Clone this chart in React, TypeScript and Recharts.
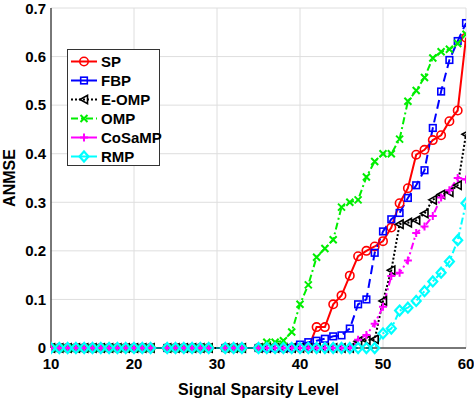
import React from "react";
import {
  LineChart,
  Line,
  CartesianGrid,
  XAxis,
  YAxis,
} from "recharts";

const sparsity = [
  10, 11, 12, 13, 14, 15, 16, 17, 18, 19, 20, 21, 22, 24, 25, 26, 27, 28, 29,
  31, 32, 33, 35, 36, 37, 38, 39, 40, 41, 42, 43, 44, 45, 46, 47, 48, 49, 50,
  51, 52, 53, 54, 55, 56, 57, 58, 59, 60,
];

// 22 points from 10 to 33 are all zero for every method
const zeros = [0, 0, 0, 0, 0, 0, 0, 0, 0, 0, 0, 0, 0, 0, 0, 0, 0, 0, 0, 0, 0, 0];

const sp = [
  ...zeros, 0, 0, 0, 0, 0, 0, 0, 0.043, 0.043, 0.09, 0.108, 0.149, 0.189, 0.2,
  0.209, 0.22, 0.248, 0.298, 0.329, 0.398, 0.408, 0.428, 0.438, 0.467, 0.489,
  0.639,
];
const fbp = [
  ...zeros, 0, 0, 0, 0, 0, 0.007, 0.012, 0.015, 0.019, 0.024, 0.026, 0.04,
  0.09, 0.1, 0.196, 0.24, 0.265, 0.278, 0.309, 0.335, 0.366, 0.453, 0.528,
  0.593, 0.632, 0.669,
];
const eomp = [
  ...zeros, 0, 0, 0, 0, 0, 0, 0, 0, 0, 0, 0, 0, 0.014, 0.016, 0.018, 0.097,
  0.16, 0.255, 0.258, 0.263, 0.277, 0.305, 0.316, 0.321, 0.335, 0.44,
];
const omp = [
  ...zeros, 0, 0.012, 0.012, 0.015, 0.033, 0.09, 0.13, 0.187, 0.205, 0.223,
  0.29, 0.3, 0.305, 0.352, 0.384, 0.4, 0.4, 0.43, 0.508, 0.53, 0.557, 0.597,
  0.61, 0.615, 0.627, 0.646,
];
const cosamp = [
  ...zeros, 0, 0, 0, 0, 0, 0, 0, 0, 0, 0, 0, 0, 0.017, 0.027, 0.05, 0.085,
  0.148, 0.155, 0.18, 0.237, 0.25, 0.272, 0.31, 0.325, 0.35, 0.347,
];
const rmp = [
  ...zeros, 0, 0, 0, 0, 0, 0, 0, 0, 0, 0, 0, 0, 0, 0, 0, 0.03, 0.04, 0.077,
  0.083, 0.097, 0.117, 0.137, 0.155, 0.178, 0.222, 0.298,
];

const xTicks = [10, 20, 30, 40, 50, 60];
const yTicks = [0, 0.1, 0.2, 0.3, 0.4, 0.5, 0.6, 0.7];

type Shape = "circle" | "square" | "triangle" | "x" | "plus" | "diamond";

const series: {
  key: string;
  name: string;
  color: string;
  dash?: string;
  legendDash?: string;
  shape: Shape;
  values: number[];
}[] = [
  { key: "sp", name: "SP", color: "#ff0000", shape: "circle", values: sp },
  { key: "fbp", name: "FBP", color: "#0000ff", dash: "9 5", shape: "square", values: fbp },
  { key: "eomp", name: "E-OMP", color: "#000000", dash: "2 2", legendDash: "2 2", shape: "triangle", values: eomp },
  { key: "omp", name: "OMP", color: "#00ee00", dash: "7 3 2 3", legendDash: "7 3 2 3", shape: "x", values: omp },
  { key: "cosamp", name: "CoSaMP", color: "#ff00ff", dash: "7 3 2 3", shape: "plus", values: cosamp },
  { key: "rmp", name: "RMP", color: "#00ffff", dash: "7 3 2 3", shape: "diamond", values: rmp },
];

const data = sparsity.map((x, i) => {
  const row: Record<string, number> = { x };
  series.forEach((s) => {
    row[s.key] = s.values[i];
  });
  return row;
});

const FONT = "'Liberation Sans', Arial, sans-serif";

const Marker = ({ shape, cx, cy, color }: { shape: Shape; cx: number; cy: number; color: string }) => {
  const sw = 1.6;
  switch (shape) {
    case "circle":
      return <circle cx={cx} cy={cy} r={4.2} fill="none" stroke={color} strokeWidth={sw} />;
    case "square":
      return <rect x={cx - 3.3} y={cy - 3.3} width={6.6} height={6.6} fill="none" stroke={color} strokeWidth={sw} />;
    case "triangle":
      return (
        <polygon
          points={`${cx - 4},${cy} ${cx + 3.5},${cy - 4.2} ${cx + 3.5},${cy + 4.2}`}
          fill="none"
          stroke={color}
          strokeWidth={sw}
        />
      );
    case "x":
      return (
        <path
          d={`M${cx - 3.5},${cy - 3.5}L${cx + 3.5},${cy + 3.5}M${cx - 3.5},${cy + 3.5}L${cx + 3.5},${cy - 3.5}`}
          stroke={color}
          strokeWidth={sw + 0.4}
        />
      );
    case "plus":
      return (
        <path
          d={`M${cx - 4},${cy}L${cx + 4},${cy}M${cx},${cy - 4}L${cx},${cy + 4}`}
          stroke={color}
          strokeWidth={sw + 0.4}
        />
      );
    case "diamond":
      return (
        <polygon
          points={`${cx},${cy - 5} ${cx + 4.5},${cy} ${cx},${cy + 5} ${cx - 4.5},${cy}`}
          fill="none"
          stroke={color}
          strokeWidth={sw + 0.6}
        />
      );
  }
  return null;
};

const makeDot = (shape: Shape, color: string) => (props: any) => {
  const { cx, cy, index } = props;
  if (cx == null || cy == null) return <g key={`d-${index}`} />;
  return (
    <g key={`d-${index}`}>
      <Marker shape={shape} cx={cx} cy={cy} color={color} />
    </g>
  );
};

const LegendBox = () => (
  <div
    style={{
      position: "absolute",
      left: 67,
      top: 49,
      width: 93,
      height: 117,
      border: "1px solid #333",
      background: "#fff",
      fontFamily: FONT,
      fontWeight: "bold",
      fontSize: 15,
      boxSizing: "border-box",
    }}
  >
    {series.map((s, i) => (
      <div
        key={s.key}
        style={{
          position: "absolute",
          left: 2,
          top: 2 + i * 19,
          height: 19,
          display: "flex",
          alignItems: "center",
          whiteSpace: "nowrap",
        }}
      >
        <svg width={28} height={19} style={{ display: "block" }}>
          <line
            x1={1}
            x2={27}
            y1={9.5}
            y2={9.5}
            stroke={s.color}
            strokeWidth={2}
            strokeDasharray={s.legendDash}
          />
          <Marker shape={s.shape} cx={14} cy={9.5} color={s.color} />
        </svg>
        <span style={{ marginLeft: 3, color: "#000" }}>{s.name}</span>
      </div>
    ))}
  </div>
);

export default function App() {
  return (
    <div
      style={{
        position: "fixed",
        left: 0,
        top: 0,
        width: 474,
        height: 399,
        background: "#fff",
      }}
    >
      <LineChart
        width={474}
        height={399}
        data={data}
        margin={{ top: 8, right: 8, bottom: 21, left: 11 }}
        style={{ fontFamily: FONT }}
      >
        <CartesianGrid stroke="#dedede" strokeDasharray="" />
        <XAxis
          dataKey="x"
          type="number"
          domain={[10, 60]}
          ticks={xTicks}
          allowDataOverflow
          height={30}
          tickSize={0}
          tickMargin={10}
          tickLine={false}
          axisLine={{ stroke: "#000" }}
          tick={{ fill: "#000", fontSize: 15, fontWeight: "bold", fontFamily: FONT }}
          label={{
            value: "Signal Sparsity Level",
            position: "bottom",
            offset: 6,
            style: { fill: "#000", fontSize: 16, fontWeight: "bold", fontFamily: FONT },
          }}
        />
        <XAxis
          xAxisId="top"
          orientation="top"
          type="number"
          domain={[10, 60]}
          height={0}
          tick={false}
          tickLine={false}
          axisLine={{ stroke: "#000" }}
        />
        <YAxis
          type="number"
          domain={[0, 0.7]}
          ticks={yTicks}
          width={40}
          tickSize={0}
          tickMargin={5}
          tickLine={false}
          axisLine={{ stroke: "#000" }}
          tickFormatter={(v: number) => String(v)}
          tick={{ fill: "#000", fontSize: 15, fontWeight: "bold", fontFamily: FONT }}
          label={{
            value: "ANMSE",
            angle: -90,
            position: "insideLeft",
            offset: -2,
            style: { fill: "#000", fontSize: 16, fontWeight: "bold", fontFamily: FONT, textAnchor: "middle" },
          }}
        />
        <YAxis
          yAxisId="right"
          orientation="right"
          type="number"
          domain={[0, 0.7]}
          width={0}
          tick={false}
          tickLine={false}
          axisLine={{ stroke: "#000" }}
        />
        {series.map((s) => (
          <Line
            key={s.key}
            dataKey={s.key}
            name={s.name}
            type="linear"
            stroke={s.color}
            strokeWidth={2}
            strokeDasharray={s.dash}
            dot={makeDot(s.shape, s.color)}
            activeDot={false}
            isAnimationActive={false}
          />
        ))}
      </LineChart>
      <LegendBox />
    </div>
  );
}
